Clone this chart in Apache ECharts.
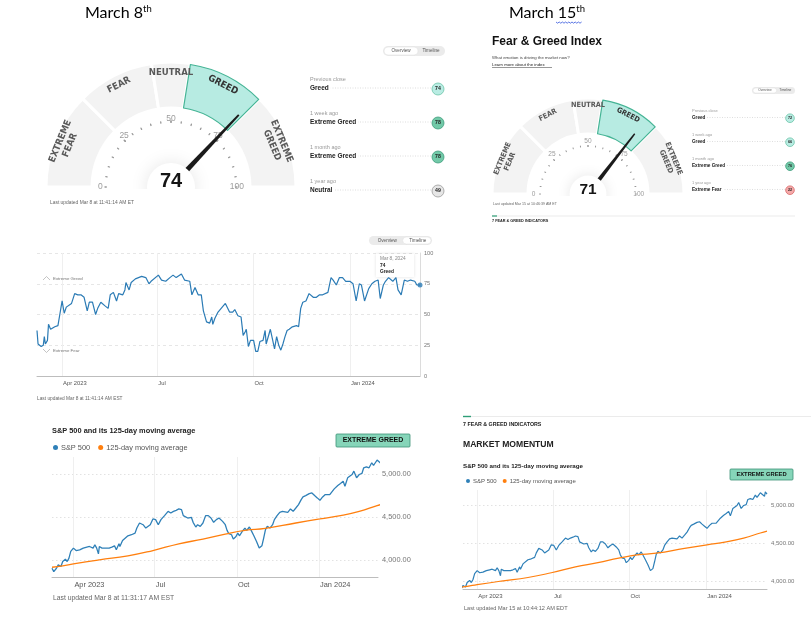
<!DOCTYPE html>
<html><head><meta charset="utf-8">
<script src="https://cdn.jsdelivr.net/npm/echarts@6/dist/echarts.min.js"></script>
<style>html,body{margin:0;padding:0;background:#fff}#c{width:811px;height:627px}</style>
</head><body><div id="c"></div>
<script>
// ---------------- DATA ----------------
const zoneNames = ['EXTREME\nFEAR', 'FEAR', 'NEUTRAL', 'GREED', 'EXTREME\nGREED'];
const zoneBounds = [0, 25, 45, 55, 75, 100];
const gaugeTicks = [0, 25, 50, 75, 100];
const gaugeValueMar8 = 74;
const gaugeValueMar15 = 71;

const historyLabels = ['Previous close', '1 week ago', '1 month ago', '1 year ago'];
const hist8Names = ['Greed', 'Extreme Greed', 'Extreme Greed', 'Neutral'];
const hist8Values = [74, 78, 78, 49];
const hist15Names = ['Greed', 'Greed', 'Extreme Greed', 'Extreme Fear'];
const hist15Values = [72, 66, 76, 22];

const quarterTicks = ['2023-04-01', '2023-07-01', '2023-10-01', '2024-01-01'];
const quarterLabels = ['Apr 2023', 'Jul', 'Oct', 'Jan 2024'];
const fgAxisTicks = [0, 25, 50, 75, 100];
const spAxisTicks = [4000, 4500, 5000];

const fgDates = ['2023-03-08','2023-03-09','2023-03-12','2023-03-14','2023-03-15','2023-03-16','2023-03-18','2023-03-19','2023-03-21','2023-03-25','2023-03-28','2023-03-30',
'2023-04-01','2023-04-03','2023-04-05','2023-04-10','2023-04-13','2023-04-16','2023-04-19','2023-04-22','2023-04-25','2023-04-27','2023-04-30',
'2023-05-03','2023-05-05','2023-05-08','2023-05-12','2023-05-15','2023-05-17','2023-05-20','2023-05-23','2023-05-25','2023-05-29','2023-05-31',
'2023-06-01','2023-06-04','2023-06-06','2023-06-10','2023-06-16','2023-06-20','2023-06-23','2023-06-25',
'2023-07-02','2023-07-05','2023-07-09','2023-07-13','2023-07-16','2023-07-19','2023-07-24','2023-07-27',
'2023-08-01','2023-08-03','2023-08-06','2023-08-09','2023-08-12','2023-08-14','2023-08-17','2023-08-20','2023-08-22','2023-08-23','2023-08-25','2023-08-28',
'2023-09-01','2023-09-04','2023-09-08','2023-09-11','2023-09-13','2023-09-16','2023-09-19','2023-09-21','2023-09-23','2023-09-24','2023-09-26','2023-09-28','2023-09-29',
'2023-10-01','2023-10-03','2023-10-05','2023-10-07','2023-10-10','2023-10-12','2023-10-13','2023-10-17','2023-10-19','2023-10-21','2023-10-23','2023-10-25','2023-10-27','2023-10-29','2023-10-31',
'2023-11-02','2023-11-04','2023-11-07','2023-11-11','2023-11-13','2023-11-15','2023-11-17','2023-11-20','2023-11-23','2023-11-27','2023-11-30',
'2023-12-03','2023-12-06','2023-12-11','2023-12-14','2023-12-16','2023-12-19','2023-12-22','2023-12-25','2023-12-28',
'2024-01-01','2024-01-04','2024-01-07','2024-01-10','2024-01-12','2024-01-15','2024-01-19','2024-01-22','2024-01-25','2024-01-28','2024-01-30',
'2024-02-02','2024-02-04','2024-02-07','2024-02-11','2024-02-14','2024-02-16','2024-02-19','2024-02-22','2024-02-25','2024-02-28',
'2024-03-03','2024-03-05','2024-03-08'];
const fgValues = [37,26,24,25,32,26,29,42,38,40,41,51,
61,51,56,59,67,66,66,64,53,60,60,
50,55,60,57,55,66,68,61,67,66,70,
76,70,76,79,81,80,75,77,
82,78,77,80,82,80,83,78,
77,66,72,66,66,53,44,43,48,42,47,52,
56,59,52,52,54,49,48,33,36,38,24,29,28,
29,20,20,28,29,37,26,38,30,22,32,25,21,26,32,
37,38,40,41,40,55,60,61,67,64,64,
66,66,68,80,78,74,80,80,77,
77,75,61,75,74,61,71,75,77,78,63,
74,77,80,77,80,70,66,78,77,78,
77,74,74];

const spDates = ['2023-03-08','2023-03-10','2023-03-13','2023-03-15','2023-03-18','2023-03-20','2023-03-23','2023-03-25','2023-03-27','2023-03-29',
'2023-04-01','2023-04-04','2023-04-08','2023-04-12','2023-04-16','2023-04-19','2023-04-23','2023-04-25','2023-04-27','2023-04-29','2023-04-30',
'2023-05-03','2023-05-06','2023-05-08','2023-05-11','2023-05-14','2023-05-17','2023-05-19','2023-05-22','2023-05-23','2023-05-26','2023-05-28',
'2023-06-01','2023-06-05','2023-06-09','2023-06-11','2023-06-14','2023-06-18','2023-06-21','2023-06-23','2023-06-26','2023-06-29',
'2023-07-02','2023-07-05','2023-07-08','2023-07-12','2023-07-16','2023-07-19','2023-07-22','2023-07-25','2023-07-28','2023-07-31',
'2023-08-02','2023-08-04','2023-08-07','2023-08-11','2023-08-13','2023-08-16','2023-08-18','2023-08-21','2023-08-24','2023-08-27','2023-08-30',
'2023-09-02','2023-09-05','2023-09-08','2023-09-11','2023-09-13','2023-09-15','2023-09-18','2023-09-20','2023-09-22','2023-09-25','2023-09-27','2023-09-30',
'2023-10-02','2023-10-04','2023-10-07','2023-10-10','2023-10-12','2023-10-15','2023-10-17','2023-10-20','2023-10-23','2023-10-26','2023-10-29','2023-10-31',
'2023-11-02','2023-11-04','2023-11-07','2023-11-10','2023-11-12','2023-11-15','2023-11-18','2023-11-21','2023-11-23','2023-11-27','2023-11-30',
'2023-12-03','2023-12-06','2023-12-09','2023-12-12','2023-12-14','2023-12-17','2023-12-21','2023-12-24','2023-12-27','2023-12-30',
'2024-01-02','2024-01-05','2024-01-08','2024-01-10','2024-01-13','2024-01-15','2024-01-18','2024-01-22','2024-01-25','2024-01-28','2024-01-30',
'2024-02-02','2024-02-04','2024-02-07','2024-02-09','2024-02-12','2024-02-15','2024-02-18','2024-02-20','2024-02-23','2024-02-26','2024-02-29',
'2024-03-02','2024-03-04','2024-03-06','2024-03-08','2024-03-11','2024-03-12','2024-03-13','2024-03-14'];
const spValues = [3902,3863,3902,3941,3922,3980,4008,3980,4020,4098,
4137,4109,4117,4137,4148,4156,4137,4176,4137,4070,4156,
4137,4137,4156,4137,4148,4164,4117,4187,4156,4226,4215,
4281,4293,4312,4371,4430,4410,4371,4352,4410,4477,
4469,4410,4469,4516,4566,4547,4566,4578,4594,4586,
4516,4500,4488,4496,4438,4383,4410,4391,4430,4516,4516,
4488,4438,4469,4488,4477,4449,4410,4344,4305,4293,4242,4273,
4312,4281,4332,4371,4344,4383,4344,4281,4215,4137,4164,4254,
4352,4391,4371,4410,4469,4516,4555,4566,4566,4555,4594,
4566,4605,4645,4703,4734,4750,4773,4781,4750,4723,
4695,4734,4762,4781,4762,4762,4828,4867,4891,4918,4859,
4957,4977,4996,5035,4957,4996,5008,5074,5086,5074,5133,
5102,5133,5164,5150,5117,5175,5165,5145];

const maDates = ['2023-03-08','2023-03-20','2023-04-01','2023-04-30','2023-06-01','2023-06-29','2023-07-28','2023-08-24','2023-09-18','2023-10-10','2023-11-02','2023-12-06','2024-01-02','2024-01-25','2024-02-15','2024-03-06','2024-03-14'];
const maValues = [3914,3930,3953,4000,4047,4109,4187,4242,4301,4344,4367,4430,4477,4516,4566,4633,4658];

// ---------------- HELPERS ----------------
const FONT = '"Liberation Sans", Arial, sans-serif';
const COND = '"DejaVu Sans Condensed","Liberation Sans Narrow","Roboto Condensed","DejaVu Sans",sans-serif';
const toTs = s => new Date(s + 'T00:00:00Z').getTime();
const quarterTs = quarterTicks.map(toTs);
const quarterFmt = v => { const i = quarterTs.indexOf(v); return i >= 0 ? quarterLabels[i] : ''; };
const pairs = (ds, vs) => ds.map((d, i) => [toTs(d), vs[i]]);

const ratingStyle = {
  'Extreme Fear': {fill: '#f5a9a9', stroke: '#d86a6a'},
  'Fear': {fill: '#f8c9a5', stroke: '#d99a6a'},
  'Neutral': {fill: '#e6e6e6', stroke: '#9a9a9a'},
  'Greed': {fill: '#b9ece3', stroke: '#6cc4a8'},
  'Extreme Greed': {fill: '#72c9a8', stroke: '#3e9c7b'}
};

function txt(x, y, text, size, color, weight, extra) {
  return {type: 'text', x: x, y: y, silent: true, z: 50, z2: 2,
    style: Object.assign({text: text, fontSize: size, fill: color || '#333', fontWeight: weight || 'normal',
      fontFamily: FONT, verticalAlign: 'middle', align: 'left'}, extra || {})};
}

const graphics = [];

function gaugeSeries(cx, cy, r0, r1, labelR0, value, s) {
  const widths = zoneNames.map((n, i) => zoneBounds[i + 1] - zoneBounds[i]);
  let active = 0;
  zoneNames.forEach((n, i) => { if (value >= zoneBounds[i]) active = i; });
  const total = zoneBounds[zoneBounds.length - 1] - zoneBounds[0];
  const hidden = {name: '', value: total, itemStyle: {color: 'rgba(0,0,0,0)', borderWidth: 0}, label: {show: false}};
  const base = {type: 'pie', silent: true, center: [cx, cy], radius: [r0, r1], startAngle: 180, clockwise: true,
    label: {show: false}, labelLine: {show: false}, emphasis: {disabled: true},
    data: zoneNames.map((n, i) => ({name: n, value: widths[i], itemStyle: {color: '#f3f3f3', borderColor: '#fff', borderWidth: 3}})).concat([hidden])};
  const over = {type: 'pie', silent: true, center: [cx, cy], radius: [r0 + 1, r1 - 1], startAngle: 180, clockwise: true, z: 3,
    label: {show: false}, labelLine: {show: false}, emphasis: {disabled: true},
    data: zoneNames.map((n, i) => ({name: n, value: widths[i], itemStyle: i === active ?
      {color: '#b7ebe2', borderColor: '#45b495', borderWidth: 1.2} : {color: 'rgba(0,0,0,0)', borderWidth: 0}})).concat([hidden])};
  const lab = {type: 'pie', silent: true, center: [cx, cy], radius: [labelR0, r1], startAngle: 180, clockwise: true, z: 4,
    itemStyle: {color: 'rgba(0,0,0,0)'}, labelLine: {show: false}, emphasis: {disabled: true},
    label: {show: true, position: 'inside', rotate: 'tangential', formatter: '{b}', fontFamily: COND, fontWeight: 'bold',
      fontSize: 9.5 * s, lineHeight: 10.5 * s, color: '#595959'},
    data: zoneNames.map((n, i) => ({name: n, value: widths[i], label: {color: i === active ? '#333' : '#595959'}})).concat([hidden])};
  const gauge = {type: 'gauge', silent: true, z: 5, center: [cx, cy], radius: 76 * s, startAngle: 180, endAngle: 0,
    min: gaugeTicks[0], max: gaugeTicks[gaugeTicks.length - 1], splitNumber: gaugeTicks.length - 1,
    axisLine: {show: false}, splitLine: {show: false, length: 0, distance: 0},
    axisTick: {show: true, splitNumber: 5, distance: 0, length: 1.3 * s, lineStyle: {color: '#999', width: 1.3 * s, cap: 'round'}},
    axisLabel: {distance: 3 * s, fontSize: 8.5 * s, color: '#9c9c9c', fontFamily: FONT},
    pointer: {icon: 'path://M35,0 L65,0 L100,100 L0,100 Z', length: 99 * s, width: 6 * s, itemStyle: {color: '#1b1b1b'}},
    anchor: {show: true, showAbove: true, size: 48 * s, itemStyle: {color: '#fff', shadowBlur: 18 * s, shadowColor: 'rgba(0,0,0,0.10)'}},
    title: {show: false},
    detail: {show: false},
    data: [{value: value}]};
  // white cover under the semicircle, value text in the hub
  graphics.push({type: 'rect', silent: true, z: 45, shape: {x: cx - r1 - 4, y: cy + 2, width: 2 * r1 + 8, height: 42 * s}, style: {fill: '#fff'}});
  graphics.push(txt(cx, cy - 6 * s, String(value), 20 * s, '#151515', 'bold', {align: 'center'}));
  return [base, over, lab, gauge];
}

function historyList(x, y0, step, badgeX, s, names, values) {
  historyLabels.forEach((l, i) => {
    const y = y0 + step * i;
    graphics.push(txt(x, y, l, 5.5 * s, '#999'));
    graphics.push({type: 'line', silent: true, z: 50, z2: 0, shape: {x1: x, y1: y + 9 * s, x2: badgeX - 6 * s, y2: y + 9 * s},
      style: {stroke: '#cfcfcf', lineWidth: 0.7, lineDash: [1, 1.5]}});
    graphics.push(txt(x, y + 9 * s, names[i], 6.5 * s, '#222', 'bold', {backgroundColor: '#fff', padding: [0, 2 * s, 0, 0]}));
    const st = ratingStyle[names[i]];
    graphics.push({type: 'circle', silent: true, z: 50, z2: 1, shape: {cx: badgeX, cy: y + 10 * s, r: 6 * s},
      style: {fill: st.fill, stroke: st.stroke, lineWidth: 0.8}});
    graphics.push(txt(badgeX, y + 10 * s, String(values[i]), 5.2 * s, '#222', 'bold', {align: 'center'}));
  });
}

function pill(x, y, w, h, leftLabel, rightLabel, activeLeft, size) {
  graphics.push({type: 'rect', silent: true, z: 50, shape: {x: x, y: y, width: w, height: h, r: h / 2}, style: {fill: '#ebebeb'}});
  const half = w * 0.55;
  const ax = activeLeft ? x + 1 : x + half - 1;
  const aw = activeLeft ? half : w - half;
  graphics.push({type: 'rect', silent: true, z: 50, z2: 1, shape: {x: ax, y: y + 1, width: aw, height: h - 2, r: (h - 2) / 2}, style: {fill: '#fff', stroke: '#ddd', lineWidth: 0.5}});
  graphics.push(txt(x + half / 2 + 1, y + h / 2, leftLabel, size, '#555', 'normal', {align: 'center'}));
  graphics.push(txt(x + half + (w - half) / 2, y + h / 2, rightLabel, size, '#555', 'normal', {align: 'center'}));
}

// ---------------- TEXT / DECORATION ----------------
graphics.push({type: 'text', x: 85, y: 4, silent: true, z: 50, style: {text: 'March 8{s|th}', fontSize: 16, fontFamily: 'Lato, "Open Sans", sans-serif', fill: '#000',
  rich: {s: {fontSize: 9.5, fontFamily: 'Lato, sans-serif', fill: '#000', verticalAlign: 'top', padding: [0, 0, 7, 0]}}}});
graphics.push({type: 'text', x: 509, y: 4, silent: true, z: 50, style: {text: 'March 15{s|th}', fontSize: 16, fontFamily: 'Lato, "Open Sans", sans-serif', fill: '#000',
  rich: {s: {fontSize: 9.5, fontFamily: 'Lato, sans-serif', fill: '#000', verticalAlign: 'top', padding: [0, 0, 7, 0]}}}});
(function () { const pts = []; for (let i = 0; i <= 16; i++) pts.push([556 + i * 1.6, 22 + (i % 2 ? 1.2 : 0)]);
  graphics.push({type: 'polyline', silent: true, z: 50, shape: {points: pts}, style: {stroke: '#3355dd', lineWidth: 0.8, fill: null}}); })();

// gauge 1 extras
pill(383, 46, 62, 10, 'Overview', 'Timeline', true, 4.6);
historyList(310, 79, 34, 438, 1, hist8Names, hist8Values);
graphics.push(txt(50, 203, 'Last updated Mar 8 at 11:41:14 AM ET', 4.9, '#666'));

// gauge 2 extras
graphics.push(txt(492, 42, 'Fear & Greed Index', 12, '#111', 'bold'));
graphics.push(txt(492, 58, 'What emotion is driving the market now?', 4.3, '#444'));
graphics.push(txt(492, 65, 'Learn more about the index', 4.3, '#222'));
graphics.push({type: 'line', silent: true, z: 50, shape: {x1: 492, y1: 67.5, x2: 552, y2: 67.5}, style: {stroke: '#333', lineWidth: 0.5}});
pill(752, 87, 43, 7, 'Overview', 'Timeline', true, 3.2);
historyList(692, 111, 24, 790, 0.72, hist15Names, hist15Values);
graphics.push(txt(493, 204, 'Last updated Mar 15 at 10:46:39 AM ET', 3.6, '#666'));
graphics.push({type: 'line', silent: true, z: 50, shape: {x1: 492, y1: 216, x2: 795, y2: 216}, style: {stroke: '#e6e6e6', lineWidth: 0.8}});
graphics.push({type: 'line', silent: true, z: 50, z2: 1, shape: {x1: 492, y1: 216, x2: 497, y2: 216}, style: {stroke: '#2f9e77', lineWidth: 1.2}});
graphics.push(txt(492, 221, '7 FEAR & GREED INDICATORS', 3.8, '#222', 'bold'));

// timeline extras
pill(369, 236, 63, 9, 'Overview', 'Timeline', false, 4.6);
graphics.push({type: 'polyline', silent: true, z: 50, shape: {points: [[43, 280], [46.5, 276.5], [50, 280]]}, style: {stroke: '#aaa', lineWidth: 0.7, fill: null}});
graphics.push(txt(53, 278.5, 'Extreme Greed', 4.4, '#777'));
graphics.push({type: 'polyline', silent: true, z: 50, shape: {points: [[43, 349], [46.5, 352.5], [50, 349]]}, style: {stroke: '#aaa', lineWidth: 0.7, fill: null}});
graphics.push(txt(53, 351, 'Extreme Fear', 4.4, '#777'));
graphics.push({type: 'rect', silent: true, z: 60, shape: {x: 376, y: 254, width: 38, height: 23}, style: {fill: '#fff', shadowBlur: 3, shadowColor: 'rgba(0,0,0,0.12)'}});
graphics.push(Object.assign(txt(380, 259, 'Mar 8, 2024', 4.8, '#888'), {z: 61}));
graphics.push(Object.assign(txt(380, 266, String(fgValues[fgValues.length - 1]), 4.8, '#222', 'bold'), {z: 61}));
graphics.push(Object.assign(txt(380, 272, 'Greed', 4.8, '#222', 'bold'), {z: 61}));
graphics.push(txt(37, 399, 'Last updated Mar 8 at 11:41:14 AM EST', 4.8, '#666'));

// S&P 1 extras
graphics.push(txt(52, 431, 'S&P 500 and its 125-day moving average', 7.4, '#222', 'bold'));
graphics.push({type: 'rect', silent: true, z: 50, shape: {x: 336, y: 434, width: 74, height: 13, r: 1}, style: {fill: '#86d5b9', stroke: '#3c9276', lineWidth: 0.8}});
graphics.push(txt(373, 440.5, 'EXTREME GREED', 7, '#111', 'bold', {align: 'center'}));
graphics.push(txt(53, 598, 'Last updated Mar 8 at 11:31:17 AM EST', 6.8, '#666'));

// S&P 2 extras
graphics.push({type: 'line', silent: true, z: 50, shape: {x1: 463, y1: 416.5, x2: 811, y2: 416.5}, style: {stroke: '#e6e6e6', lineWidth: 0.8}});
graphics.push({type: 'line', silent: true, z: 50, z2: 1, shape: {x1: 463, y1: 416.5, x2: 471, y2: 416.5}, style: {stroke: '#2f9e77', lineWidth: 1.4}});
graphics.push(txt(463, 425, '7 FEAR & GREED INDICATORS', 5.3, '#222', 'bold'));
graphics.push(txt(463, 444.5, 'MARKET MOMENTUM', 8.6, '#222', 'bold'));
graphics.push(txt(463, 466.5, 'S&P 500 and its 125-day moving average', 6.2, '#222', 'bold'));
graphics.push({type: 'rect', silent: true, z: 50, shape: {x: 730, y: 469, width: 63, height: 11, r: 1}, style: {fill: '#86d5b9', stroke: '#3c9276', lineWidth: 0.8}});
graphics.push(txt(761.5, 474.5, 'EXTREME GREED', 5.8, '#111', 'bold', {align: 'center'}));
graphics.push(txt(464, 608, 'Last updated Mar 15 at 10:44:12 AM EDT', 5.6, '#666'));

// ---------------- AXES ----------------
function dateAxis(grid, min, max, size) {
  return {type: 'value', gridIndex: grid, min: toTs(min), max: toTs(max),
    axisLine: {show: true, lineStyle: {color: '#bdbdbd', width: 1}},
    axisTick: {show: false, customValues: quarterTs},
    axisLabel: {customValues: quarterTs, formatter: quarterFmt, align: 'left', fontSize: size, color: '#555', fontFamily: FONT, margin: 4, padding: [0, 0, 0, 1]},
    splitLine: {show: true, lineStyle: {color: '#efefef', width: 1}}};
}
function spYAxis(grid, min, max, size) {
  return {type: 'value', gridIndex: grid, position: 'right', min: min, max: max,
    axisLine: {show: false}, axisTick: {show: false, customValues: spAxisTicks},
    axisLabel: {customValues: spAxisTicks, fontSize: size, color: '#777', fontFamily: FONT, margin: 4,
      formatter: v => v.toLocaleString('en-US', {minimumFractionDigits: 2, maximumFractionDigits: 2})},
    splitLine: {show: true, lineStyle: {color: '#e2e2e2', type: [1.5, 2.5], width: 1}}};
}

const series = [].concat(
  gaugeSeries(171, 187, 79, 125, 98, gaugeValueMar8, 1),
  gaugeSeries(588, 194, 60, 96, 75, gaugeValueMar15, 0.77),
  [
    {type: 'line', name: 'Fear & Greed', xAxisIndex: 0, yAxisIndex: 0, showSymbol: false, silent: true,
      lineStyle: {color: '#2b7bb5', width: 1.2}, itemStyle: {color: '#2b7bb5'}, data: pairs(fgDates, fgValues)},
    {type: 'scatter', name: 'latest', xAxisIndex: 0, yAxisIndex: 0, symbolSize: 5, silent: true, itemStyle: {color: '#2b7bb5'},
      data: [[toTs(fgDates[fgDates.length - 1]), fgValues[fgValues.length - 1]]]},
    {type: 'line', name: 'S&P 500', xAxisIndex: 1, yAxisIndex: 1, showSymbol: false, silent: true,
      lineStyle: {color: '#2f80b8', width: 1.3}, itemStyle: {color: '#2f80b8'}, data: pairs(spDates, spValues)},
    {type: 'line', name: '125-day moving average', xAxisIndex: 1, yAxisIndex: 1, showSymbol: false, smooth: true, silent: true,
      lineStyle: {color: '#ff7f0e', width: 1.3}, itemStyle: {color: '#ff7f0e'}, data: pairs(maDates, maValues)},
    {type: 'line', name: 'S&P 500', xAxisIndex: 2, yAxisIndex: 2, showSymbol: false, silent: true,
      lineStyle: {color: '#2f80b8', width: 1.2}, itemStyle: {color: '#2f80b8'}, data: pairs(spDates, spValues)},
    {type: 'line', name: '125-day moving average', xAxisIndex: 2, yAxisIndex: 2, showSymbol: false, smooth: true, silent: true,
      lineStyle: {color: '#ff7f0e', width: 1.2}, itemStyle: {color: '#ff7f0e'}, data: pairs(maDates, maValues)}
  ]);

const option = {
  animation: false,
  backgroundColor: '#fff',
  textStyle: {fontFamily: FONT},
  graphic: {elements: graphics},
  legend: [
    {left: 48, top: 439, icon: 'circle', itemWidth: 5, itemHeight: 5, itemGap: 8, selectedMode: false,
      textStyle: {fontSize: 7.4, color: '#555', fontFamily: FONT, padding: [0, 0, 0, -2]}, data: ['S&P 500', '125-day moving average']},
    {left: 461, top: 473, icon: 'circle', itemWidth: 4, itemHeight: 4, itemGap: 6, selectedMode: false,
      textStyle: {fontSize: 6, color: '#555', fontFamily: FONT, padding: [0, 0, 0, -2]}, data: ['S&P 500', '125-day moving average']}
  ],
  grid: [
    {left: 37, top: 253, width: 383, height: 123},
    {left: 52, top: 457, width: 326, height: 120},
    {left: 463, top: 490, width: 304, height: 99}
  ],
  xAxis: [
    dateAxis(0, '2023-03-08', '2024-03-08', 5.8),
    dateAxis(1, '2023-03-08', '2024-03-07', 7.4),
    dateAxis(2, '2023-03-15', '2024-03-14', 6)
  ],
  yAxis: [
    {type: 'value', gridIndex: 0, position: 'right', min: fgAxisTicks[0], max: fgAxisTicks[fgAxisTicks.length - 1], interval: 25,
      axisLine: {show: true, lineStyle: {color: '#dcdcdc'}}, axisTick: {show: false},
      axisLabel: {fontSize: 5.6, color: '#777', margin: 4, fontFamily: FONT},
      splitLine: {show: true, lineStyle: {color: '#e6e6e6', type: [3, 3]}}},
    spYAxis(1, 3800, 5200, 7.4),
    spYAxis(2, 3895, 5200, 6)
  ],
  series: series
};

const chart = echarts.init(document.getElementById('c'), null, {renderer: 'canvas'});
chart.setOption(option);
</script>
</body></html>
